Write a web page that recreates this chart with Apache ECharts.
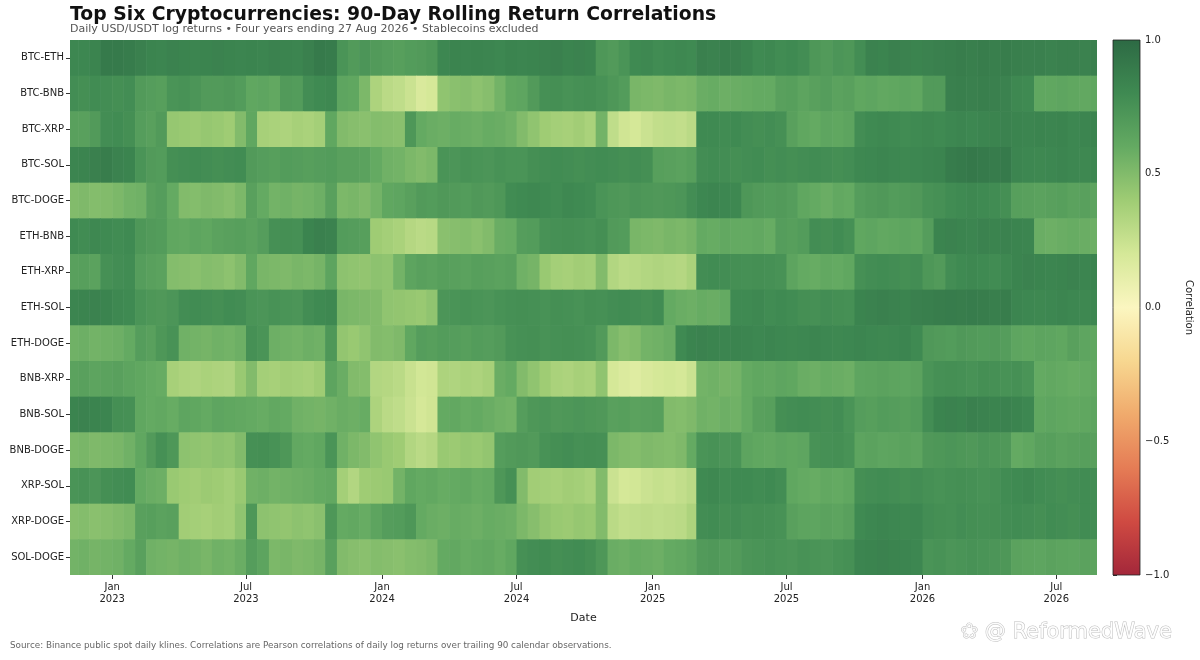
<!DOCTYPE html>
<html><head><meta charset="utf-8">
<script src="https://cdn.jsdelivr.net/npm/echarts@6/dist/echarts.min.js"></script>
<style>html,body{margin:0;padding:0;background:#fff;}#c{width:1200px;height:660px;}</style>
</head><body><div id="c"></div>
<script>
// ---------- data ----------
const pairs = ['BTC-ETH','BTC-BNB','BTC-XRP','BTC-SOL','BTC-DOGE','ETH-BNB','ETH-XRP','ETH-SOL','ETH-DOGE','BNB-XRP','BNB-SOL','BNB-DOGE','XRP-SOL','XRP-DOGE','SOL-DOGE'];
const FIRST_DAY = '2022-11-05';
const LAST_DAY = '2026-08-25';
const tickDates = ['2023-01-01','2023-07-01','2024-01-01','2024-07-01','2025-01-01','2025-07-01','2026-01-01','2026-07-01'];
const monthNames = ['Jan','Feb','Mar','Apr','May','Jun','Jul','Aug','Sep','Oct','Nov','Dec'];
const colorbarTicks = [-1, -0.5, 0, 0.5, 1];
const palette = ['#a3273a','#cf4a42','#e57c55','#f0aa6c','#f7d790','#fbf6c0','#d5e898','#9fcc74','#64aa62','#3f8a52','#2d6a44'];

// half-month bins from FIRST_DAY to LAST_DAY (92 bins)
const btcEth = [0.82,0.82,0.84,0.90,0.90,0.89,0.86,0.84,0.83,0.85,
0.84,0.83,0.84,0.85,0.84,0.83,0.84,0.83,0.85,0.84,
0.83,0.86,0.90,0.89,0.74,0.70,0.73,0.70,0.68,0.67,
0.69,0.70,0.72,0.82,0.84,0.83,0.84,0.83,0.82,0.84,
0.83,0.84,0.85,0.86,0.84,0.85,0.84,0.72,0.70,0.74,
0.80,0.81,0.79,0.80,0.81,0.80,0.86,0.85,0.87,0.86,
0.84,0.80,0.81,0.79,0.80,0.78,0.72,0.70,0.73,0.72,
0.78,0.85,0.84,0.86,0.85,0.84,0.85,0.86,0.87,0.88,
0.87,0.88,0.87,0.88,0.87,0.86,0.86,0.85,0.86,0.86,
0.85,0.86];
const btcBnb = [0.78,0.77,0.79,0.78,0.77,0.78,0.70,0.68,0.67,0.74,
0.75,0.73,0.70,0.70,0.71,0.69,0.62,0.63,0.61,0.70,
0.69,0.78,0.80,0.81,0.63,0.62,0.52,0.35,0.30,0.28,
0.24,0.18,0.20,0.45,0.47,0.48,0.46,0.48,0.55,0.62,
0.63,0.70,0.76,0.77,0.75,0.76,0.77,0.75,0.72,0.69,
0.53,0.52,0.51,0.53,0.52,0.53,0.58,0.59,0.57,0.58,
0.59,0.60,0.60,0.66,0.67,0.64,0.66,0.68,0.65,0.66,
0.62,0.63,0.61,0.62,0.63,0.62,0.70,0.70,0.86,0.87,
0.86,0.87,0.86,0.85,0.81,0.80,0.62,0.62,0.63,0.62,
0.61,0.62];
const btcXrp = [0.66,0.66,0.70,0.78,0.79,0.77,0.68,0.66,0.70,0.43,
0.42,0.41,0.43,0.42,0.40,0.50,0.62,0.37,0.36,0.35,
0.37,0.36,0.38,0.62,0.50,0.48,0.47,0.49,0.48,0.47,
0.72,0.60,0.58,0.57,0.59,0.58,0.57,0.59,0.58,0.56,
0.50,0.45,0.40,0.38,0.37,0.39,0.36,0.55,0.28,0.22,
0.20,0.24,0.27,0.28,0.27,0.30,0.80,0.80,0.79,0.80,
0.78,0.77,0.78,0.76,0.66,0.62,0.60,0.63,0.62,0.64,
0.78,0.80,0.81,0.80,0.79,0.80,0.81,0.80,0.82,0.83,
0.82,0.83,0.84,0.85,0.84,0.83,0.84,0.83,0.84,0.82,
0.83,0.84];
const btcSol = [0.83,0.84,0.86,0.88,0.85,0.84,0.74,0.70,0.69,0.77,
0.78,0.79,0.78,0.77,0.78,0.79,0.70,0.68,0.67,0.69,
0.68,0.67,0.68,0.69,0.66,0.66,0.65,0.60,0.56,0.55,
0.52,0.50,0.52,0.74,0.73,0.75,0.74,0.73,0.75,0.74,
0.74,0.77,0.78,0.79,0.78,0.77,0.78,0.79,0.78,0.77,
0.78,0.77,0.67,0.66,0.65,0.67,0.78,0.79,0.78,0.77,
0.78,0.79,0.77,0.78,0.77,0.78,0.79,0.78,0.77,0.78,
0.81,0.82,0.83,0.82,0.81,0.82,0.83,0.84,0.89,0.90,
0.91,0.90,0.89,0.90,0.83,0.82,0.81,0.82,0.83,0.82,
0.81,0.82];
const btcDoge = [0.50,0.51,0.49,0.50,0.52,0.55,0.56,0.66,0.68,0.60,
0.50,0.49,0.51,0.50,0.48,0.52,0.66,0.60,0.55,0.56,
0.54,0.55,0.57,0.66,0.52,0.53,0.51,0.55,0.62,0.63,
0.66,0.70,0.69,0.71,0.70,0.69,0.71,0.70,0.72,0.79,
0.80,0.81,0.80,0.79,0.81,0.80,0.79,0.74,0.72,0.71,
0.73,0.72,0.71,0.72,0.73,0.78,0.82,0.83,0.82,0.81,
0.72,0.70,0.69,0.70,0.68,0.62,0.60,0.58,0.61,0.60,
0.68,0.70,0.71,0.69,0.70,0.71,0.75,0.76,0.79,0.80,
0.81,0.80,0.79,0.77,0.67,0.66,0.65,0.66,0.67,0.65,
0.66,0.64];
const ethBnb = [0.80,0.79,0.81,0.80,0.79,0.80,0.72,0.70,0.69,0.62,
0.61,0.63,0.62,0.65,0.66,0.67,0.65,0.68,0.76,0.77,
0.76,0.84,0.86,0.85,0.69,0.68,0.67,0.40,0.38,0.36,
0.32,0.30,0.31,0.47,0.48,0.49,0.47,0.50,0.58,0.59,
0.68,0.69,0.75,0.76,0.77,0.76,0.75,0.77,0.70,0.69,
0.53,0.52,0.51,0.53,0.52,0.54,0.60,0.59,0.61,0.60,
0.60,0.61,0.59,0.68,0.67,0.69,0.78,0.77,0.79,0.76,
0.62,0.63,0.61,0.62,0.63,0.62,0.68,0.84,0.85,0.84,
0.83,0.85,0.84,0.85,0.84,0.83,0.58,0.57,0.58,0.59,
0.58,0.57];
const ethXrp = [0.66,0.67,0.65,0.76,0.78,0.79,0.68,0.66,0.65,0.49,
0.48,0.47,0.49,0.48,0.46,0.50,0.62,0.53,0.52,0.51,
0.53,0.52,0.54,0.64,0.46,0.45,0.44,0.46,0.45,0.55,
0.64,0.66,0.65,0.67,0.66,0.65,0.67,0.66,0.65,0.66,
0.56,0.54,0.42,0.38,0.37,0.39,0.38,0.50,0.33,0.30,
0.31,0.33,0.34,0.33,0.32,0.36,0.78,0.79,0.78,0.77,
0.76,0.77,0.76,0.75,0.64,0.60,0.59,0.61,0.60,0.62,
0.76,0.78,0.79,0.78,0.77,0.78,0.72,0.70,0.78,0.80,
0.81,0.80,0.79,0.81,0.84,0.85,0.84,0.83,0.84,0.85,
0.83,0.84];
const ethSol = [0.83,0.84,0.85,0.84,0.81,0.80,0.74,0.72,0.71,0.73,
0.78,0.79,0.78,0.77,0.79,0.78,0.74,0.73,0.75,0.74,
0.73,0.78,0.80,0.81,0.53,0.52,0.51,0.50,0.45,0.44,
0.43,0.42,0.45,0.73,0.74,0.75,0.74,0.73,0.75,0.76,
0.77,0.76,0.75,0.77,0.76,0.75,0.77,0.76,0.78,0.79,
0.78,0.77,0.79,0.60,0.58,0.57,0.59,0.58,0.60,0.80,
0.80,0.81,0.79,0.80,0.79,0.77,0.76,0.78,0.77,0.76,
0.84,0.85,0.86,0.85,0.84,0.86,0.87,0.88,0.89,0.88,
0.89,0.88,0.87,0.88,0.83,0.82,0.81,0.82,0.83,0.82,
0.81,0.82];
const ethDoge = [0.56,0.57,0.55,0.56,0.57,0.60,0.68,0.66,0.72,0.75,
0.56,0.55,0.54,0.56,0.55,0.57,0.76,0.74,0.57,0.56,
0.55,0.57,0.56,0.72,0.44,0.42,0.45,0.50,0.49,0.51,
0.62,0.68,0.67,0.69,0.68,0.67,0.69,0.68,0.70,0.75,
0.76,0.77,0.75,0.76,0.77,0.76,0.75,0.70,0.52,0.48,
0.50,0.55,0.56,0.58,0.80,0.84,0.85,0.84,0.83,0.84,
0.83,0.82,0.83,0.82,0.81,0.82,0.83,0.82,0.81,0.82,
0.83,0.82,0.81,0.82,0.83,0.80,0.71,0.70,0.69,0.71,
0.70,0.69,0.70,0.68,0.63,0.62,0.64,0.63,0.62,0.66,
0.63,0.62];
const bnbXrp = [0.65,0.66,0.64,0.65,0.66,0.64,0.62,0.60,0.59,0.37,
0.35,0.34,0.36,0.35,0.34,0.42,0.50,0.38,0.37,0.39,
0.38,0.37,0.40,0.64,0.58,0.50,0.49,0.33,0.32,0.30,
0.25,0.21,0.22,0.35,0.34,0.36,0.35,0.37,0.58,0.60,
0.50,0.45,0.40,0.36,0.35,0.37,0.36,0.45,0.20,0.17,
0.15,0.18,0.20,0.21,0.20,0.24,0.55,0.56,0.54,0.55,
0.60,0.62,0.61,0.63,0.62,0.58,0.57,0.59,0.58,0.57,
0.63,0.64,0.65,0.64,0.63,0.65,0.74,0.76,0.77,0.76,
0.75,0.77,0.76,0.75,0.76,0.74,0.60,0.61,0.60,0.59,
0.60,0.61];
const bnbSol = [0.84,0.85,0.84,0.83,0.77,0.76,0.62,0.60,0.61,0.59,
0.63,0.62,0.60,0.63,0.62,0.61,0.60,0.59,0.61,0.60,
0.56,0.55,0.54,0.56,0.58,0.57,0.59,0.35,0.30,0.28,
0.24,0.20,0.22,0.60,0.61,0.59,0.60,0.58,0.56,0.55,
0.68,0.72,0.73,0.71,0.72,0.73,0.72,0.71,0.66,0.67,
0.65,0.66,0.67,0.50,0.49,0.51,0.56,0.55,0.57,0.56,
0.60,0.66,0.67,0.77,0.78,0.79,0.78,0.77,0.78,0.74,
0.68,0.67,0.69,0.68,0.67,0.69,0.78,0.84,0.85,0.84,
0.86,0.85,0.84,0.85,0.84,0.82,0.62,0.63,0.62,0.61,
0.62,0.63];
const bnbDoge = [0.52,0.53,0.51,0.52,0.53,0.56,0.62,0.70,0.76,0.72,
0.46,0.45,0.44,0.46,0.45,0.50,0.76,0.77,0.75,0.72,
0.61,0.60,0.62,0.74,0.56,0.52,0.50,0.45,0.42,0.40,
0.33,0.30,0.32,0.42,0.41,0.43,0.42,0.44,0.68,0.70,
0.71,0.70,0.75,0.77,0.78,0.76,0.77,0.76,0.52,0.50,
0.49,0.51,0.50,0.49,0.51,0.60,0.74,0.75,0.73,0.74,
0.64,0.62,0.61,0.63,0.62,0.63,0.75,0.76,0.77,0.75,
0.64,0.65,0.63,0.64,0.65,0.64,0.71,0.72,0.73,0.72,
0.71,0.73,0.72,0.71,0.60,0.62,0.66,0.67,0.65,0.66,
0.67,0.66];
const xrpSol = [0.74,0.75,0.73,0.77,0.78,0.79,0.60,0.58,0.57,0.42,
0.40,0.39,0.41,0.40,0.38,0.42,0.56,0.57,0.55,0.56,
0.57,0.58,0.60,0.61,0.38,0.33,0.40,0.41,0.42,0.55,
0.62,0.60,0.61,0.59,0.60,0.61,0.59,0.60,0.72,0.76,
0.50,0.39,0.38,0.37,0.39,0.38,0.36,0.50,0.24,0.20,
0.21,0.24,0.26,0.25,0.27,0.30,0.80,0.81,0.79,0.80,
0.80,0.79,0.80,0.78,0.62,0.60,0.59,0.61,0.60,0.62,
0.77,0.78,0.79,0.78,0.77,0.78,0.76,0.75,0.76,0.77,
0.76,0.75,0.76,0.79,0.80,0.81,0.79,0.78,0.77,0.78,
0.79,0.78];
const xrpDoge = [0.48,0.49,0.47,0.48,0.50,0.52,0.66,0.67,0.65,0.66,
0.39,0.38,0.37,0.39,0.38,0.45,0.72,0.46,0.45,0.44,
0.46,0.45,0.47,0.72,0.60,0.61,0.59,0.64,0.68,0.69,
0.72,0.60,0.58,0.57,0.59,0.58,0.57,0.59,0.58,0.57,
0.52,0.48,0.44,0.42,0.41,0.43,0.42,0.50,0.30,0.27,
0.28,0.29,0.28,0.29,0.30,0.35,0.78,0.79,0.77,0.78,
0.76,0.77,0.76,0.75,0.66,0.64,0.63,0.65,0.64,0.66,
0.80,0.82,0.83,0.82,0.81,0.82,0.78,0.77,0.76,0.78,
0.77,0.76,0.77,0.78,0.79,0.78,0.77,0.79,0.78,0.77,
0.79,0.78];
const solDoge = [0.55,0.56,0.54,0.55,0.56,0.60,0.66,0.56,0.55,0.54,
0.56,0.55,0.53,0.56,0.55,0.58,0.68,0.64,0.52,0.53,
0.51,0.52,0.54,0.66,0.50,0.48,0.47,0.49,0.48,0.47,
0.49,0.50,0.52,0.60,0.61,0.59,0.60,0.61,0.59,0.62,
0.76,0.78,0.79,0.77,0.78,0.79,0.77,0.72,0.58,0.57,
0.59,0.58,0.57,0.60,0.61,0.64,0.70,0.71,0.69,0.70,
0.73,0.74,0.75,0.74,0.73,0.75,0.74,0.73,0.75,0.76,
0.83,0.84,0.85,0.84,0.83,0.82,0.74,0.75,0.73,0.74,
0.75,0.74,0.73,0.72,0.65,0.64,0.63,0.65,0.64,0.63,
0.65,0.64];

const rowValues = [btcEth,btcBnb,btcXrp,btcSol,btcDoge,ethBnb,ethXrp,ethSol,ethDoge,bnbXrp,bnbSol,bnbDoge,xrpSol,xrpDoge,solDoge];

// ---------- build ----------
function ts(s){ return Date.parse(s + 'T00:00:00Z'); }
const tStart = ts(FIRST_DAY), tEnd = ts(LAST_DAY);
const edges = [tStart];
(function(){
  let y = 2022, m = 10, d = 16;
  while (true) {
    const t = Date.UTC(y, m, d);
    if (t >= tEnd) break;
    edges.push(t);
    if (d === 1) { d = 16; } else { d = 1; m++; if (m > 11) { m = 0; y++; } }
  }
})();
edges.push(tEnd);

const cells = [];
rowValues.forEach(function(vals, r){
  vals.forEach(function(v, i){
    if (i + 1 < edges.length) cells.push([edges[i], edges[i+1], r, v]);
  });
});

const tickTs = tickDates.map(ts);
const FONT = 'DejaVu Sans';

const chart = echarts.init(document.getElementById('c'), null, {renderer: 'canvas'});
chart.setOption({
  backgroundColor: '#ffffff',
  animation: false,
  textStyle: {fontFamily: FONT},
  title: [
    {text: 'Top Six Cryptocurrencies: 90-Day Rolling Return Correlations', left: 70, top: 6, padding: 0,
     textStyle: {fontFamily: FONT, fontSize: 18.8, fontWeight: 'bold', color: '#111'}},
    {text: 'Daily USD/USDT log returns \u2022 Four years ending 27 Aug 2026 \u2022 Stablecoins excluded', left: 70, top: 24, padding: 0,
     textStyle: {fontFamily: FONT, fontSize: 11, fontWeight: 'normal', color: '#555'}},
    {text: 'Source: Binance public spot daily klines. Correlations are Pearson correlations of daily log returns over trailing 90 calendar observations.',
     left: 10, top: 641, padding: 0, textStyle: {fontFamily: FONT, fontSize: 8.8, fontWeight: 'normal', color: '#666'}}
  ],
  graphic: [
    {type: 'text', left: 960, top: 622, silent: true,
     style: {text: '\u2740 @ ReformedWave', fontFamily: FONT, fontSize: 21, fill: 'rgba(255,255,255,0.9)', stroke: '#bdbdbd', lineWidth: 1}}
  ],
  grid: [
    {left: 70, top: 40, width: 1027, height: 535},
    {left: 1113, top: 40, width: 27, height: 535}
  ],
  xAxis: [
    {type: 'value', gridIndex: 0, min: tStart, max: tEnd,
     name: 'Date', nameLocation: 'middle', nameGap: 38,
     nameTextStyle: {fontFamily: FONT, fontSize: 11, color: '#222'},
     axisLine: {show: false},
     splitLine: {show: false},
     axisTick: {show: true, customValues: tickTs, length: 4, lineStyle: {color: '#333'}},
     axisLabel: {customValues: tickTs, fontFamily: FONT, fontSize: 10, color: '#222', lineHeight: 12, margin: 6,
       formatter: function(v){ const d = new Date(v); return monthNames[d.getUTCMonth()] + '\n' + d.getUTCFullYear(); }}
    },
    {type: 'value', gridIndex: 1, min: 0, max: 1, show: false}
  ],
  yAxis: [
    {type: 'category', gridIndex: 0, data: pairs, inverse: true,
     axisLine: {show: false}, splitLine: {show: false},
     axisTick: {show: true, alignWithLabel: true, length: 4, lineStyle: {color: '#333'}},
     axisLabel: {fontFamily: FONT, fontSize: 10, color: '#222', margin: 6}
    },
    {type: 'value', gridIndex: 1, min: -1, max: 1, interval: 0.5, position: 'right',
     name: 'Correlation', nameLocation: 'middle', nameRotate: -90, nameGap: 44,
     nameTextStyle: {fontFamily: FONT, fontSize: 10, color: '#222'},
     axisLine: {show: false}, splitLine: {show: false},
     axisTick: {show: true, length: 4, lineStyle: {color: '#333'}},
     axisLabel: {fontFamily: FONT, fontSize: 10, color: '#222', margin: 5,
       formatter: function(v){ return (v < 0 ? '\u2212' : '') + Math.abs(v).toFixed(1); }}
    }
  ],
  visualMap: {
    type: 'continuous', show: false, min: -1, max: 1, dimension: 3, seriesIndex: 0,
    inRange: {color: palette}
  },
  series: [
    {
      type: 'custom', xAxisIndex: 0, yAxisIndex: 0, clip: true,
      encode: {x: [0, 1], y: 2},
      data: cells,
      renderItem: function(params, api){
        const r = api.value(2);
        const p0 = api.coord([api.value(0), r]);
        const p1 = api.coord([api.value(1), r]);
        const h = api.size([0, 1])[1];
        return {type: 'rect',
          shape: {x: p0[0], y: p0[1] - h / 2, width: p1[0] - p0[0] + 0.6, height: h + 0.6},
          style: {fill: api.visual('color')}};
      }
    },
    {
      type: 'custom', xAxisIndex: 1, yAxisIndex: 1, clip: false,
      data: [[0, 1, colorbarTicks[0], colorbarTicks[colorbarTicks.length - 1]]],
      renderItem: function(params, api){
        const topLeft = api.coord([api.value(0), api.value(3)]);
        const botRight = api.coord([api.value(1), api.value(2)]);
        const stops = palette.map(function(c, i){ return {offset: 1 - i / (palette.length - 1), color: c}; }).reverse();
        return {type: 'rect',
          shape: {x: topLeft[0], y: topLeft[1], width: botRight[0] - topLeft[0], height: botRight[1] - topLeft[1]},
          style: {fill: new echarts.graphic.LinearGradient(0, 0, 0, 1, stops), stroke: '#222', lineWidth: 0.8}};
      }
    }
  ]
});
</script>
</body></html>
